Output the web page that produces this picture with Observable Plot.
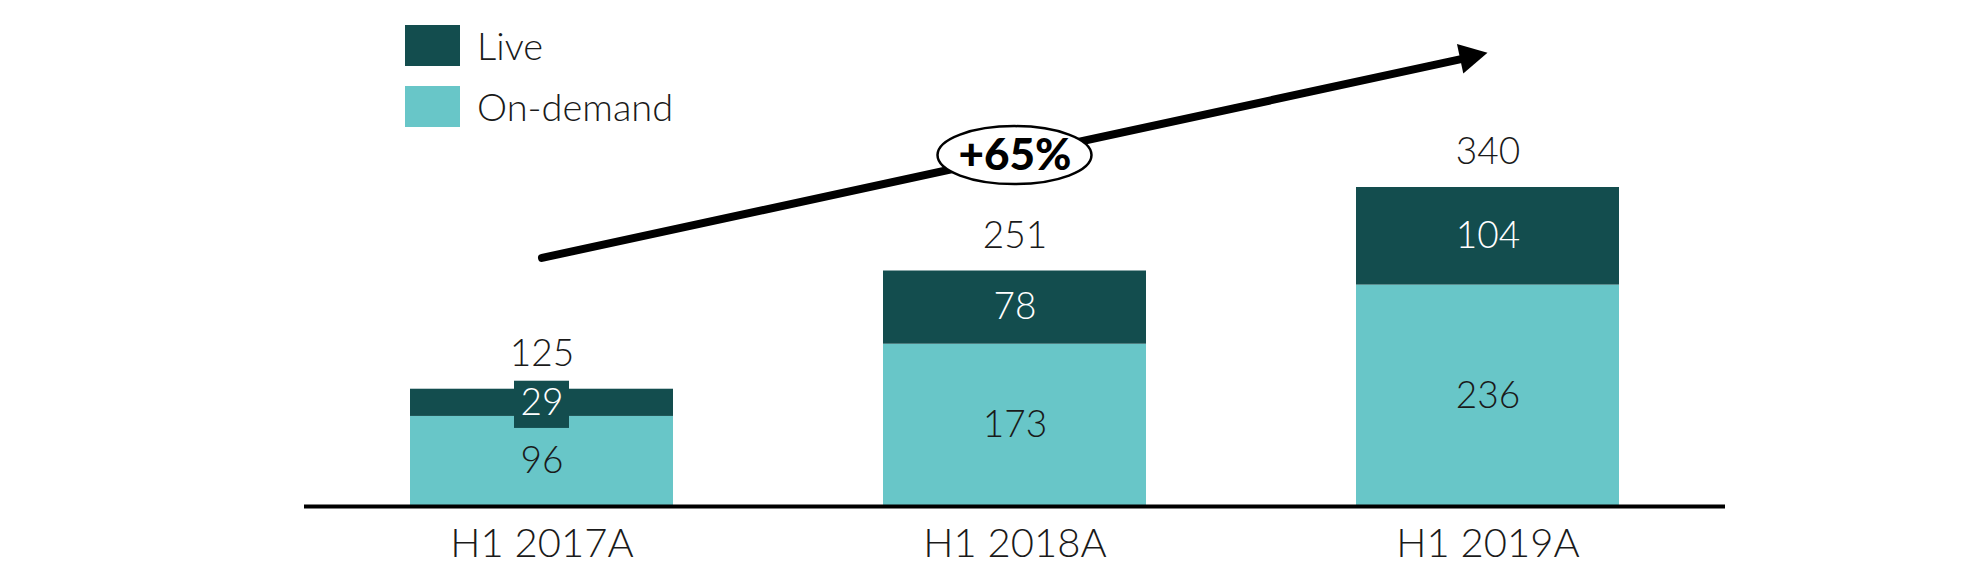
<!DOCTYPE html>
<html>
<head>
<meta charset="utf-8">
<script src="https://cdn.jsdelivr.net/npm/d3@7"></script>
<script src="https://cdn.jsdelivr.net/npm/@observablehq/plot@0.6"></script>
<style>
  html, body { margin: 0; padding: 0; background: #ffffff; }
  #wrap { position: relative; width: 1963px; height: 582px; font-family: Lato, "Liberation Sans", sans-serif; }
  #legend { position: absolute; left: 405px; top: 25px; }
  .item { display: flex; align-items: center; height: 41px; margin-bottom: 20px; }
  .sw { width: 55px; height: 41px; margin-right: 17px; }
  .lab { font-size: 38px; font-weight: 300; color: #1a1a1a; line-height: 41px; }
</style>
</head>
<body>
<div id="wrap">
  <div id="chart"></div>
  <div id="legend"></div>
</div>
<script>
// ---- data ----
const categories = ["H1 2017A", "H1 2018A", "H1 2019A"];
const onDemand = [96, 173, 236];
const live = [29, 78, 104];
const seriesNames = ["Live", "On-demand"];
const seriesColors = ["#134d4e", "#68c6c8"];
const growthLabel = "+65%";
const arrowFrom = "H1 2017A";
const arrowTo = "H1 2019A";
const arrowValues = [265, 483];

// ---- derived tables ----
const rows = [];
categories.forEach((c, i) => {
  rows.push({cat: c, series: "On-demand", value: onDemand[i]});
  rows.push({cat: c, series: "Live", value: live[i]});
});
const totals = categories.map((c, i) => ({cat: c, total: onDemand[i] + live[i]}));
const smallSegments = categories
  .map((c, i) => ({cat: c, y1: onDemand[i], y2: onDemand[i] + live[i], value: live[i]}))
  .filter(d => d.value < 40);
const arrowData = [{x1: arrowFrom, x2: arrowTo, y1: arrowValues[0], y2: arrowValues[1]}];
const growthData = [{cat: categories[1], y: (arrowValues[0] + arrowValues[1]) / 2, text: growthLabel}];

const HEAD_LEN = 28, HEAD_HALF = 15;

// custom mark: filled arrowhead and ellipse badge
function decorations(index, scales) {
  const bw = scales.x.bandwidth ? scales.x.bandwidth() : 0;
  const sx = scales.x(arrowFrom) + bw / 2, sy = scales.y(arrowValues[0]);
  const tx = scales.x(arrowTo) + bw / 2, ty = scales.y(arrowValues[1]);
  const len = Math.hypot(tx - sx, ty - sy);
  const ux = (tx - sx) / len, uy = (ty - sy) / len;
  const nx = -uy, ny = ux;
  const bx = tx - HEAD_LEN * ux, by = ty - HEAD_LEN * uy;
  const g = d3.create("svg:g");
  g.append("path")
    .attr("d", `M${tx},${ty}L${bx + HEAD_HALF * nx},${by + HEAD_HALF * ny}L${bx - HEAD_HALF * nx},${by - HEAD_HALF * ny}Z`)
    .attr("fill", "#000");
  g.append("ellipse")
    .attr("cx", (sx + tx) / 2).attr("cy", (sy + ty) / 2)
    .attr("rx", 77).attr("ry", 29)
    .attr("fill", "#fff").attr("stroke", "#000").attr("stroke-width", 2.5);
  return g.node();
}

const chart = Plot.plot({
  width: 1963,
  height: 582,
  marginLeft: 304,
  marginRight: 238,
  marginTop: 187,
  marginBottom: 76,
  style: {fontFamily: "Lato, 'Liberation Sans', sans-serif", fontSize: "40px", fontWeight: 300, color: "#1a1a1a", background: "transparent"},
  x: {domain: categories, paddingInner: 0.445, paddingOuter: 0.2225, tickSize: 0, tickPadding: 22, label: null},
  y: {domain: [0, 340], axis: null},
  color: {domain: seriesNames, range: seriesColors},
  marks: [
    Plot.barY(rows, Plot.stackY({x: "cat", y: "value", fill: "series"})),
    Plot.rectY(smallSegments, {x: "cat", y1: "y1", y2: "y2", fill: seriesColors[0], insetLeft: 104, insetRight: 104, insetTop: -8, insetBottom: -12}),
    Plot.text(rows, Plot.stackY({x: "cat", y: "value", text: "value", fill: d => d.series, fontSize: 37, fontWeight: 300})),
    Plot.text(totals, {x: "cat", y: "total", text: "total", dy: -35, fontSize: 37, fontWeight: 300, fill: "#1a1a1a"}),
    Plot.ruleY([0], {stroke: "#000", strokeWidth: 4}),
    Plot.arrow(arrowData, {x1: "x1", x2: "x2", y1: "y1", y2: "y2", stroke: "#000", strokeWidth: 8, headLength: 0, insetEnd: HEAD_LEN - 4}),
    decorations,
    Plot.text(growthData, {x: "cat", y: "y", text: "text", fontSize: 44, fontWeight: 900, fill: "#000"})
  ]
});

// recolor inside-bar labels: white on dark, dark on light
d3.select(chart).selectAll("text").each(function() {
  const f = this.getAttribute("fill");
  if (f === seriesColors[0]) this.setAttribute("fill", "#ffffff");
  else if (f === seriesColors[1]) this.setAttribute("fill", "#1a1a1a");
});

document.getElementById("chart").appendChild(chart);

// legend
const legend = document.getElementById("legend");
seriesNames.forEach((s, i) => {
  const item = document.createElement("div");
  item.className = "item";
  const sw = document.createElement("div");
  sw.className = "sw";
  sw.style.background = seriesColors[i];
  const lab = document.createElement("span");
  lab.className = "lab";
  lab.textContent = s;
  item.appendChild(sw);
  item.appendChild(lab);
  legend.appendChild(item);
});
</script>
</body>
</html>
